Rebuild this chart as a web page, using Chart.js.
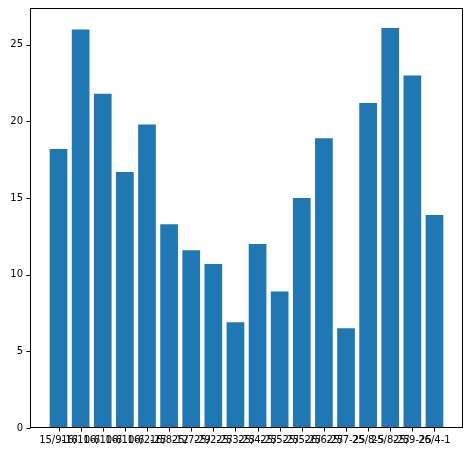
<!DOCTYPE html>
<html>
<head>
<meta charset="utf-8">
<script src="https://cdn.jsdelivr.net/npm/chart.js@4"></script>
<style>
  html, body { margin: 0; padding: 0; background: #fff; }
  canvas { display: block; }
</style>
</head>
<body>
<canvas id="chart" width="474" height="454"></canvas>
<script>
// dates on the x axis (overlapping in the original, best reading)
const labels = ['15/9-16', '16/10-6', '16/10-6', '16/10-6', '16/2-25', '16/8-12', '25/7-29', '25/2-25', '25/3-25',
                '25/4-25', '25/5-25', '25/5-25', '26/6-25', '25/7-25', '25/8-5', '25/8-25', '25/9-25', '26/4-1'];
const values = [18.2, 26.0, 21.8, 16.7, 19.8, 13.3, 11.6, 10.7, 6.9,
                12.0, 8.9, 15.0, 18.9, 6.5, 21.2, 26.1, 23.0, 13.9];
const yTicks = [0, 5, 10, 15, 20, 25];

const font = { family: 'DejaVu Sans', size: 10 };

// box around the plot + tick marks, like matplotlib spines
const frame = {
  id: 'frame',
  afterDraw(chart) {
    const { ctx, chartArea: a, scales } = chart;
    ctx.save();
    ctx.strokeStyle = '#000';
    ctx.lineWidth = 1;
    const l = Math.round(a.left) + 0.5, r = Math.round(a.right) - 0.5;
    const t = Math.round(a.top) + 0.5, b = Math.round(a.bottom) - 0.5;
    ctx.strokeRect(l, t, r - l, b - t);
    ctx.beginPath();
    scales.x.ticks.forEach(tk => {
      const x = Math.round(scales.x.getPixelForValue(tk.value)) + 0.5;
      ctx.moveTo(x, b); ctx.lineTo(x, b + 4);
    });
    scales.y.ticks.forEach(tk => {
      const y = Math.round(scales.y.getPixelForValue(tk.value)) + 0.5;
      ctx.moveTo(l, y); ctx.lineTo(l - 4, y);
    });
    ctx.stroke();
    ctx.restore();
  }
};

const n = values.length;
const pad = 0.4 + 0.05 * (n - 1 + 0.8);

new Chart(document.getElementById('chart').getContext('2d'), {
  type: 'bar',
  data: {
    datasets: [{
      data: values.map((v, i) => ({ x: i, y: v })),
      backgroundColor: '#1f77b4',
      borderWidth: 0,
      barPercentage: 0.8,
      categoryPercentage: 1
    }]
  },
  options: {
    responsive: false,
    animation: false,
    layout: { padding: { top: 8, right: 11, left: 0, bottom: 0 } },
    plugins: { legend: { display: false }, tooltip: { enabled: false } },
    scales: {
      x: {
        type: 'linear',
        offset: false,
        min: -pad,
        max: n - 1 + pad,
        afterBuildTicks: s => { s.ticks = labels.map((_, i) => ({ value: i })); },
        afterFit: s => { s.height = 26; s.paddingLeft = 0; s.paddingRight = 0; },
        grid: { display: false, drawTicks: false },
        border: { display: false },
        ticks: {
          autoSkip: false, maxRotation: 0, color: '#000', font, padding: 6,
          callback: v => labels[v]
        }
      },
      y: {
        min: 0,
        max: 27.4,
        afterBuildTicks: s => { s.ticks = yTicks.map(v => ({ value: v })); },
        afterFit: s => { s.width = 30; s.paddingTop = 0; s.paddingBottom = 0; },
        grid: { display: false, drawTicks: false },
        border: { display: false },
        ticks: { color: '#000', font, padding: 7 }
      }
    }
  },
  plugins: [frame]
});
</script>
</body>
</html>
